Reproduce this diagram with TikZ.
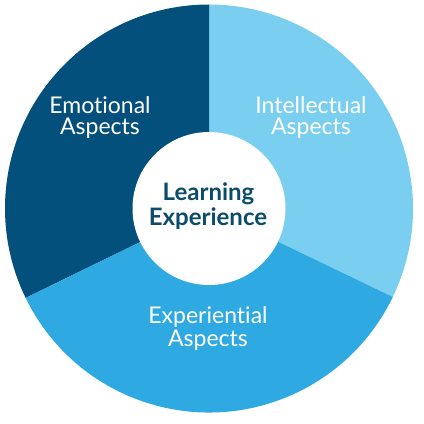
\documentclass[tikz,border=0pt]{standalone}
\usepackage{fontspec}
\setmainfont[Ligatures={NoCommon}]{Lato}
\definecolor{darkseg}{HTML}{03507C}
\definecolor{lightseg}{HTML}{7ACFF0}
\definecolor{midseg}{HTML}{2EA9E1}
\definecolor{centertext}{HTML}{0C4C6B}
\begin{document}
\begin{tikzpicture}[x=1pt,y=1pt,
  seglabel/.style={anchor=base,text=white,font=\fontsize{23}{23}\selectfont,inner sep=0pt},
  centerlabel/.style={anchor=base,text=centertext,font=\bfseries\fontsize{24}{24}\selectfont,inner sep=0pt}]
\useasboundingbox (0,0) rectangle (424,424);
\coordinate (c) at (209,215.5);
\def\R{204}
\fill[lightseg] (c) -- ++(-25.7:\R) arc[start angle=-25.7,end angle=90,radius=\R] -- cycle;
\fill[darkseg] (c) -- ++(90:\R) arc[start angle=90,end angle=206,radius=\R] -- cycle;
\fill[midseg] (c) -- ++(206:\R) arc[start angle=206,end angle=334.3,radius=\R] -- cycle;
\node[circle,fill=white,minimum size=153,inner sep=0pt] (hub) at (c) {};
\node[seglabel] (emo1) at (100,310.7) {Emotional};
\node[seglabel] (emo2) at (100,289) {Aspects};
\node[seglabel] (int1) at (311,310.7) {Intellectual};
\node[seglabel] (int2) at (311,289) {Aspects};
\node[seglabel] (exp1) at (208,100) {Experiential};
\node[seglabel] (exp2) at (208,77.3) {Aspects};
\node[centerlabel] (le1) at (208.5,223) {Learning};
\node[centerlabel] (le2) at (208,198) {Experience};
\end{tikzpicture}
\end{document}
